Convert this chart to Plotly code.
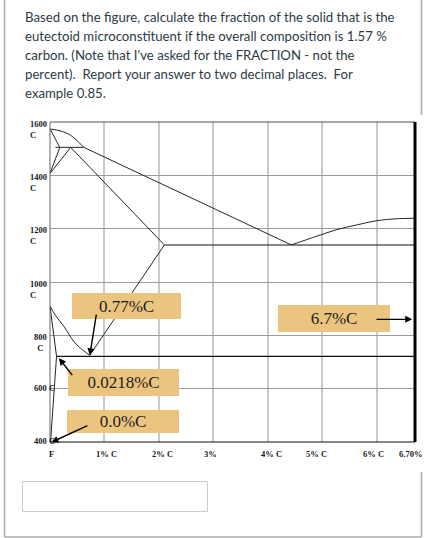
import plotly.graph_objects as go

# ---------------- data ----------------
question_lines = [
    "Based on the figure, calculate the fraction of the solid that is the",
    "eutectoid microconstituent if the overall composition is 1.57 %",
    "carbon. (Note that I've asked for the FRACTION - not the",
    "percent).\u00a0 Report your answer to two decimal places.\u00a0 For",
    "example 0.85.",
]

# phase boundaries: wt% C, temperature (C)
liq_delta_x = [0.0, 0.2, 0.38, 0.62]
liq_delta_T = [1574, 1566, 1550, 1505]
liq_gamma_x = [0.62, 4.43]
liq_gamma_T = [1505, 1139]
liq_cem_x = [4.43, 4.9, 5.26, 5.63, 6.0, 6.35, 6.7]
liq_cem_T = [1139, 1172, 1196, 1214, 1230, 1237, 1239]
peritectic_x = [0.10, 0.62]
peritectic_T = [1505, 1505]
delta_sol_x = [0.0, 0.18]
delta_sol_T = [1574, 1505]
delta_lo_x = [0.18, 0.0]
delta_lo_T = [1505, 1407]
gamma_hi_x = [0.0, 0.38]
gamma_hi_T = [1407, 1505]
gamma_sol_x = [0.38, 2.1]
gamma_sol_T = [1505, 1139]
eutectic_x = [2.1, 6.7]
eutectic_T = [1139, 1139]
acm_x = [2.1, 0.73]
acm_T = [1139, 725]
a3_x = [0.0, 0.1, 0.26, 0.44, 0.6, 0.73]
a3_T = [910, 875, 832, 776, 745, 725]
alpha_x = [0.0, 0.12]
alpha_T = [910, 721]
solvus_x = [0.12, 0.01]
solvus_T = [721, 400]
eutectoid_x = [0.12, 6.7]
eutectoid_T = [721, 721]

# labelled boxes: text, box centre (wt%, C), arrow tail, arrow head
box_texts = ["0.77%C", "0.0218%C", "0.0%C", "6.7%C"]
box_cx = [1.40, 1.34, 1.34, 5.22]
box_cT = [909, 625, 476, 862]
arrow_tail_x = [0.855, 0.43, 0.714, 5.965]
arrow_tail_T = [883, 645, 464, 860]
arrow_head_x = [0.73, 0.165, 0.026, 6.65]
arrow_head_T = [725, 714, 399, 860]

x_tick_labels = ["F", "1% C", "2% C", "3%", "4% C", "5% C", "6% C", "6.70%"]
y_tick_values = [1600, 1400, 1200, 1000, 800, 600, 400]
y_tick_labels = ["1600<br>C", "1400<br>C", "1200<br>C", "1000<br>C", "800<br>C", "600 C", "400 C"]

# ---------------- layout helpers (pixel -> paper) ----------------
W, H = 432, 538
L, R, T, B = 50, 17, 122, 96
PW, PH = W - L - R, H - T - B

def px(x):
    return (x - L) / PW

def py(y):
    return (H - B - y) / PH

x_label_pos = [0.03, 1.03, 2.07, 2.94, 4.07, 4.90, 5.93, 6.62]

fig = go.Figure()
line_style = dict(color="#262626", width=1)
segments = [
    (liq_delta_x, liq_delta_T, "spline"), (liq_gamma_x, liq_gamma_T, "linear"),
    (liq_cem_x, liq_cem_T, "spline"), (peritectic_x, peritectic_T, "linear"),
    (delta_sol_x, delta_sol_T, "linear"), (delta_lo_x, delta_lo_T, "linear"),
    (gamma_hi_x, gamma_hi_T, "linear"), (gamma_sol_x, gamma_sol_T, "linear"),
    (acm_x, acm_T, "linear"), (a3_x, a3_T, "spline"),
    (alpha_x, alpha_T, "linear"), (solvus_x, solvus_T, "linear"),
]
for xs, ts, shp in segments:
    fig.add_trace(go.Scatter(x=xs, y=ts, mode="lines", line=dict(shape=shp, **line_style),
                             showlegend=False, hoverinfo="skip"))
for xs, ts in [(eutectic_x, eutectic_T), (eutectoid_x, eutectoid_T)]:
    fig.add_trace(go.Scatter(x=xs, y=ts, mode="lines", line=dict(color="#111", width=1.1),
                             showlegend=False, hoverinfo="skip"))

ann = []
# boxes
box_w = [109, 111, 112, 112]
box_h = [26, 27, 23, 27]
for t, cx, cT, w, h in zip(box_texts, box_cx, box_cT, box_w, box_h):
    ann.append(dict(x=cx, y=cT, xref="x", yref="y", text=t, showarrow=False,
                    bgcolor="#EBC47F", width=w, height=h, borderpad=0, borderwidth=0,
                    font=dict(family="Liberation Serif", size=17, color="#1e1e1e"),
                    xanchor="center", yanchor="middle"))
# arrows
for tx, tT, hx, hT in zip(arrow_tail_x, arrow_tail_T, arrow_head_x, arrow_head_T):
    ann.append(dict(x=hx, y=hT, ax=tx, ay=tT, xref="x", yref="y", axref="x", ayref="y",
                    text="", showarrow=True, arrowhead=2, arrowsize=1, arrowwidth=1.4,
                    arrowcolor="#000", standoff=0, startstandoff=0))
# x tick labels
for lab, xp in zip(x_tick_labels, x_label_pos):
    ann.append(dict(x=xp, y=py(454), xref="x", yref="paper", text=lab, showarrow=False,
                    font=dict(family="Liberation Serif", size=8.5, color="#1a1a1a", weight="bold"),
                    xanchor="center", yanchor="middle"))
# y tick labels
for v, lab in zip(y_tick_values, y_tick_labels):
    if "<br>" in lab:
        al = "center" if v == 800 else "left"
        x0 = 31.5 if v == 800 else 28
        ann.append(dict(x=px(x0), y=v, xref="paper", yref="y", text=lab, showarrow=False,
                        align=al, xanchor="left", yanchor="top", yshift=5.5,
                        font=dict(family="Liberation Serif", size=8.5, color="#1a1a1a", weight="bold")))
    else:
        ann.append(dict(x=px(31.5), y=v, xref="paper", yref="y", text=lab, showarrow=False,
                        xanchor="left", yanchor="middle", yshift=1,
                        font=dict(family="Liberation Serif", size=8.5, color="#1a1a1a", weight="bold")))
# question text
for i, line in enumerate(question_lines):
    ann.append(dict(x=px(22.7), y=py(17.3 + 19 * i), xref="paper", yref="paper", text=line,
                    showarrow=False, xanchor="left", yanchor="middle",
                    font=dict(family="Lato", size=13.2, color="#2D3B45")))

shapes = [
    # plot frame
    dict(type="line", xref="paper", yref="paper", x0=0, x1=1, y0=1, y1=1, line=dict(color="#555", width=1)),
    dict(type="line", xref="paper", yref="paper", x0=0, x1=1, y0=0, y1=0, line=dict(color="#111", width=1.2)),
    dict(type="line", xref="paper", yref="paper", x0=0, x1=0, y0=0, y1=1, line=dict(color="#666", width=1)),
    dict(type="line", xref="paper", yref="paper", x0=1, x1=1, y0=0, y1=1, line=dict(color="#000", width=3)),
    # card border
    dict(type="line", xref="paper", yref="paper", x0=px(4.5), x1=px(4.5), y0=py(0), y1=py(537),
         line=dict(color="#ababab", width=1.5)),
    dict(type="line", xref="paper", yref="paper", x0=px(4.5), x1=px(421.5), y0=py(537), y1=py(537),
         line=dict(color="#ababab", width=1.5)),
    dict(type="line", xref="paper", yref="paper", x0=px(421.5), x1=px(421.5), y0=py(0), y1=py(115),
         line=dict(color="#ababab", width=1.5)),
    dict(type="line", xref="paper", yref="paper", x0=px(421.5), x1=px(421.5), y0=py(472), y1=py(537),
         line=dict(color="#ababab", width=1.5)),
    # answer input box
    dict(type="rect", xref="paper", yref="paper", x0=px(22.5), x1=px(207.5), y0=py(511.5), y1=py(481.5),
         line=dict(color="#c7cdd1", width=1), fillcolor="rgba(0,0,0,0)"),
]

fig.update_layout(
    width=W, height=H, margin=dict(l=L, r=R, t=T, b=B),
    paper_bgcolor="white", plot_bgcolor="white",
    annotations=ann, shapes=shapes, showlegend=False,
    xaxis=dict(range=[0, 6.7], tickvals=[1, 2, 3, 4, 5, 6], showticklabels=False,
               showgrid=True, gridcolor="#cacaca", gridwidth=2, zeroline=False, showline=False,
               fixedrange=True),
    yaxis=dict(range=[400, 1600], tickvals=[600, 800, 1000, 1200, 1400], showticklabels=False,
               showgrid=True, gridcolor="#9c9c9c", gridwidth=1, zeroline=False, showline=False,
               fixedrange=True),
)

fig.write_html("out.html", config={"displayModeBar": False})
